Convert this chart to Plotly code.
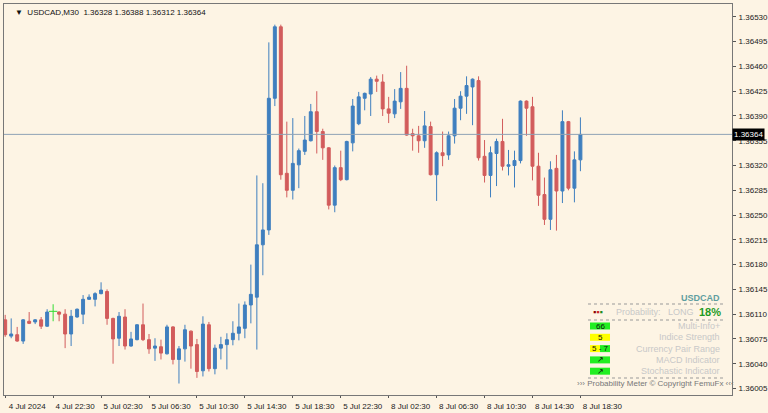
import plotly.graph_objects as go

# USDCAD M30 bars (index 0 = 4 Jul 18:30 ... index 96 = 8 Jul 18:30)
opens = [1.36102, 1.36079, 1.36081, 1.36072, 1.36100, 1.36099, 1.36102, 1.36093, 1.36114, 1.36113,
         1.36110, 1.36082, 1.36106, 1.36110, 1.36131, 1.36131, 1.36139, 1.36142, 1.36104, 1.36076,
         1.36106, 1.36065, 1.36074, 1.36095, 1.36074, 1.36062, 1.36064, 1.36054, 1.36092, 1.36046,
         1.36061, 1.36086, 1.36067, 1.36030, 1.36095, 1.36033, 1.36062, 1.36067, 1.36074, 1.36083,
         1.36090, 1.36123, 1.36134, 1.36208, 1.36229, 1.36415, 1.36516, 1.36309, 1.36285, 1.36321,
         1.36340, 1.36355, 1.36396, 1.36368, 1.36345, 1.36264, 1.36317, 1.36300, 1.36352, 1.36379,
         1.36415, 1.36421, 1.36442, 1.36438, 1.36400, 1.36393, 1.36410, 1.36429, 1.36365, 1.36362,
         1.36355, 1.36375, 1.36307, 1.36338, 1.36335, 1.36362, 1.36401, 1.36418, 1.36431, 1.36440,
         1.36333, 1.36306, 1.36337, 1.36354, 1.36319, 1.36320, 1.36327, 1.36411, 1.36403, 1.36319,
         1.36279, 1.36244, 1.36316, 1.36284, 1.36382, 1.36288, 1.36328]
highs = [1.36109, 1.36104, 1.36092, 1.36103, 1.36113, 1.36103, 1.36106, 1.36117, 1.36124, 1.36114,
         1.36117, 1.36116, 1.36118, 1.36137, 1.36138, 1.36141, 1.36155, 1.36145, 1.36105, 1.36113,
         1.36117, 1.36085, 1.36096, 1.36125, 1.36082, 1.36076, 1.36074, 1.36095, 1.36093, 1.36065,
         1.36095, 1.36087, 1.36075, 1.36107, 1.36099, 1.36067, 1.36078, 1.36083, 1.36100, 1.36125,
         1.36128, 1.36180, 1.36306, 1.36295, 1.36494, 1.36519, 1.36519, 1.36382, 1.36387, 1.36344,
         1.36390, 1.36407, 1.36425, 1.36372, 1.36346, 1.36320, 1.36341, 1.36355, 1.36414, 1.36424,
         1.36423, 1.36445, 1.36447, 1.36449, 1.36417, 1.36428, 1.36452, 1.36461, 1.36372, 1.36376,
         1.36397, 1.36382, 1.36340, 1.36368, 1.36368, 1.36414, 1.36425, 1.36446, 1.36443, 1.36446,
         1.36356, 1.36347, 1.36358, 1.36386, 1.36342, 1.36341, 1.36412, 1.36412, 1.36417, 1.36338,
         1.36303, 1.36326, 1.36335, 1.36398, 1.36383, 1.36340, 1.36388]
lows = [1.36078, 1.36076, 1.36071, 1.36068, 1.36096, 1.36096, 1.36089, 1.36092, 1.36100, 1.36100,
        1.36062, 1.36065, 1.36105, 1.36096, 1.36130, 1.36121, 1.36138, 1.36095, 1.36040, 1.36065,
        1.36060, 1.36064, 1.36073, 1.36072, 1.36054, 1.36044, 1.36046, 1.36053, 1.36039, 1.36012,
        1.36043, 1.36033, 1.36020, 1.36022, 1.36029, 1.36025, 1.36046, 1.36032, 1.36066, 1.36073,
        1.36076, 1.36097, 1.36060, 1.36165, 1.36222, 1.36404, 1.36300, 1.36275, 1.36272, 1.36288,
        1.36335, 1.36354, 1.36337, 1.36328, 1.36258, 1.36254, 1.36298, 1.36299, 1.36340, 1.36377,
        1.36398, 1.36390, 1.36424, 1.36390, 1.36380, 1.36387, 1.36400, 1.36362, 1.36341, 1.36338,
        1.36345, 1.36306, 1.36270, 1.36319, 1.36328, 1.36351, 1.36384, 1.36393, 1.36377, 1.36327,
        1.36296, 1.36275, 1.36291, 1.36313, 1.36306, 1.36289, 1.36323, 1.36362, 1.36299, 1.36263,
        1.36236, 1.36229, 1.36228, 1.36267, 1.36285, 1.36268, 1.36312]
closes = [1.36081, 1.36082, 1.36072, 1.36102, 1.36097, 1.36102, 1.36093, 1.36113, 1.36114, 1.36110,
          1.36082, 1.36107, 1.36117, 1.36131, 1.36134, 1.36139, 1.36144, 1.36104, 1.36075, 1.36107,
          1.36065, 1.36075, 1.36095, 1.36074, 1.36061, 1.36065, 1.36055, 1.36092, 1.36046, 1.36061,
          1.36088, 1.36065, 1.36029, 1.36096, 1.36033, 1.36062, 1.36067, 1.36074, 1.36083, 1.36092,
          1.36123, 1.36138, 1.36208, 1.36229, 1.36415, 1.36516, 1.36307, 1.36285, 1.36323, 1.36341,
          1.36356, 1.36396, 1.36368, 1.36345, 1.36264, 1.36317, 1.36300, 1.36354, 1.36404, 1.36417,
          1.36422, 1.36442, 1.36439, 1.36400, 1.36394, 1.36411, 1.36429, 1.36363, 1.36362, 1.36355,
          1.36376, 1.36307, 1.36338, 1.36334, 1.36362, 1.36401, 1.36418, 1.36433, 1.36442, 1.36331,
          1.36306, 1.36338, 1.36354, 1.36319, 1.36321, 1.36327, 1.36411, 1.36401, 1.36319, 1.36278,
          1.36244, 1.36314, 1.36284, 1.36382, 1.36288, 1.36328, 1.36364]

doji_index = 8
last_price = 1.36364

tick_idx = [0, 8, 16, 24, 32, 40, 48, 56, 64, 72, 80, 88, 96]
tick_text = ["4 Jul 2024", "4 Jul 22:30", "5 Jul 02:30", "5 Jul 06:30", "5 Jul 10:30",
             "5 Jul 14:30", "5 Jul 18:30", "5 Jul 22:30", "8 Jul 02:30", "8 Jul 06:30",
             "8 Jul 10:30", "8 Jul 14:30", "8 Jul 18:30"]
price_ticks = [1.36005, 1.36040, 1.36075, 1.36110, 1.36145, 1.36180, 1.36215, 1.36250,
               1.36285, 1.36320, 1.36355, 1.36390, 1.36425, 1.36460, 1.36495, 1.36530]

# meter panel
meter_labels = ["Multi-Info+", "Indice Strength", "Currency Pair Range", "MACD Indicator", "Stochastic Indicator"]
meter_values = ["66", "5", "5 - 7", "↗", "↗"]
meter_left = ["#22ee22", "#ffff00", "#ffff00", "#22ee22", "#22ee22"]
meter_right = ["#22ee22", "#ffff00", "#22ee22", "#22ee22", "#22ee22"]

BULL = "#3f7fbf"
BEAR = "#d25c5c"
BG = "#fdf4e4"

idx = [i for i in range(len(opens)) if i != doji_index]
fig = go.Figure()
fig.add_trace(go.Candlestick(
    x=idx, open=[opens[i] for i in idx], high=[highs[i] for i in idx],
    low=[lows[i] for i in idx], close=[closes[i] for i in idx],
    increasing=dict(line=dict(color=BULL, width=1), fillcolor=BULL),
    decreasing=dict(line=dict(color=BEAR, width=1), fillcolor=BEAR),
    whiskerwidth=0, showlegend=False, hoverinfo="skip"))
fig.add_trace(go.Scatter(
    x=[doji_index], y=[closes[doji_index]], mode="markers",
    marker=dict(symbol="line-ew", size=6, line=dict(color="#33dd33", width=1)),
    error_y=dict(type="data", symmetric=False, array=[highs[doji_index] - closes[doji_index]],
                 arrayminus=[closes[doji_index] - lows[doji_index]], color="#33dd33", width=0, thickness=1),
    showlegend=False, hoverinfo="skip"))

fig.add_hline(y=last_price, line=dict(color="#8fa2b6", width=1))

fig.update_layout(
    width=768, height=413, margin=dict(l=4, r=36, t=4, b=18),
    paper_bgcolor=BG, plot_bgcolor=BG,
    font=dict(family="Liberation Sans", size=8, color="#222"),
    xaxis=dict(range=[-0.2, 121.3], rangeslider=dict(visible=False), showgrid=False, zeroline=False,
               tickmode="array", tickvals=tick_idx, ticktext=tick_text, ticks="outside", ticklen=2,
               tickcolor="#555", ticklabelshift=22, ticklabelstandoff=1, automargin=False,
               showline=True, linecolor="#777", mirror=True),
    yaxis=dict(range=[1.359958, 1.365482], side="right", showgrid=False, zeroline=False,
               tickmode="array", tickvals=price_ticks, tickformat=".5f", ticks="outside", ticklen=3,
               tickcolor="#555", ticklabelstandoff=1, automargin=False,
               showline=True, linecolor="#777", mirror=True),
)

fig.add_annotation(xref="paper", yref="paper", x=0.012, y=0.995, xanchor="left", yanchor="top",
                   text="▼  USDCAD,M30  1.36328 1.36388 1.36312 1.36364", showarrow=False,
                   font=dict(size=8, color="#111"))
fig.add_annotation(xref="paper", yref="y", x=1.0, y=last_price, xanchor="left", yanchor="middle",
                   text=f"{last_price:.5f}", showarrow=False, bgcolor="#000",
                   font=dict(color="#fff", size=8), borderpad=1)

# probability meter panel (pixel-based paper coords)
def px(x):
    return (x - 4) / (732 - 4)

def py(y):
    return 1 - (y - 4) / (395 - 4)

def label(x, y, text, anchor, color, size):
    fig.add_annotation(xref="paper", yref="paper", x=px(x), y=py(y), xanchor=anchor, yanchor="middle",
                       text=text, showarrow=False, font=dict(color=color, size=size))

label(722, 298, "<b>USDCAD</b>", "right", "#5f9ea0", 9)
for yl in [304, 320, 378]:
    fig.add_shape(type="line", xref="paper", yref="paper", x0=px(588), x1=px(724), y0=py(yl), y1=py(yl),
                  line=dict(color="#999", width=1, dash="dot"))
label(591, 312, "<span style='color:#8b0000'>▪</span><span style='color:#cc2222'>▪</span>"
      "<span style='color:#228b22'>▪</span>", "left", "#8b0000", 9)
label(696, 312, "Probability:   LONG", "right", "#c8c8c8", 9)
label(723, 312, "<b>18%</b>", "right", "#1f9a1f", 11)
for k, lab in enumerate(meter_labels):
    yy = 326 + k * 11.3
    fig.add_shape(type="rect", xref="paper", yref="paper", x0=px(590), x1=px(600),
                  y0=py(yy - 3.5), y1=py(yy + 3.5), fillcolor=meter_left[k], line=dict(width=0))
    fig.add_shape(type="rect", xref="paper", yref="paper", x0=px(600), x1=px(610),
                  y0=py(yy - 3.5), y1=py(yy + 3.5), fillcolor=meter_right[k], line=dict(width=0))
    label(600, yy, meter_values[k], "center", "#111", 8)
    label(722, yy, lab, "right", "#c8c8c8", 9)
label(655, 383, "››› Probability Meter © Copyright FemuFx ‹‹‹", "center", "#777", 8)

fig.write_html("out.html", config={"displayModeBar": False},
               post_script="document.body.style.margin='0';")
